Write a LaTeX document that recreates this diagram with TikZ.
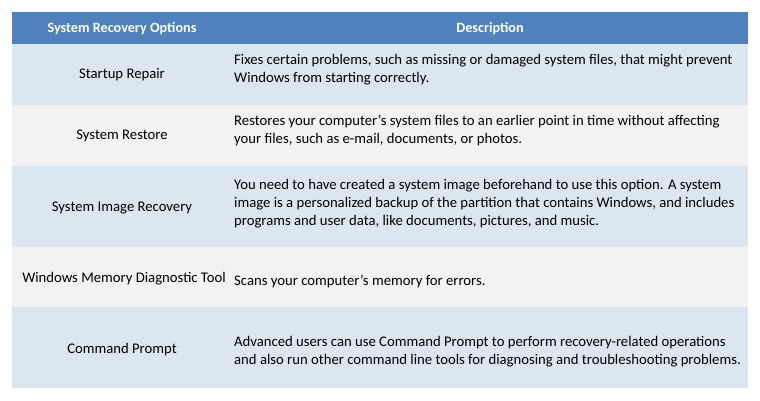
\documentclass[tikz,border=0pt]{standalone}
\usepackage{fontspec}
\setmainfont{Carlito}
\definecolor{hdr}{HTML}{4F81BD}
\definecolor{rowa}{HTML}{DCE6F1}
\definecolor{rowb}{HTML}{F2F2F2}
\begin{document}
\begin{tikzpicture}[x=1pt,y=-1pt,
  every node/.style={font=\fontsize{14.7}{18}\selectfont, inner sep=0pt},
  opt/.style={align=center},
  desc/.style={anchor=west, align=left},
  head/.style={text=white, font=\fontsize{14.2}{18}\selectfont\bfseries}]
\useasboundingbox (0,0) rectangle (760,400);
\fill[hdr] (12,12) rectangle (748,44);
\fill[rowa] (12,44) rectangle (748,105);
\fill[rowb] (12,105) rectangle (748,166);
\fill[rowa] (12,166) rectangle (748,247);
\fill[rowb] (12,247) rectangle (748,307);
\fill[rowa] (12,307) rectangle (748,388);
\node[head] (h1) at (122,29) {System Recovery Options};
\node[head] (h2) at (490,29) {Description};
\node[opt] (o1) at (122,75) {Startup Repair};
\node[desc] (d1) at (234,70) {Fixes certain problems, such as missing or damaged system files, that might prevent\\ Windows from starting correctly.};
\node[opt] (o2) at (122,136) {System Restore};
\node[desc] (d2) at (234,130) {Restores your computer's system files to an earlier point in time without affecting\\ your files, such as e-mail, documents, or photos.};
\node[opt] (o3) at (122,208) {System Image Recovery};
\node[desc] (d3) at (234,204) {You need to have created a system image beforehand to use this option. A system\\ image is a personalized backup of the partition that contains Windows, and includes\\ programs and user data, like documents, pictures, and music.};
\node[opt] (o4) at (124,279) {Windows Memory Diagnostic Tool};
\node[desc] (d4) at (234,281) {Scans your computer's memory for errors.};
\node[opt] (o5) at (122,350) {Command Prompt};
\node[desc] (d5) at (234,352) {Advanced users can use Command Prompt to perform recovery-related operations\\ and also run other command line tools for diagnosing and troubleshooting problems.};
\end{tikzpicture}
\end{document}
